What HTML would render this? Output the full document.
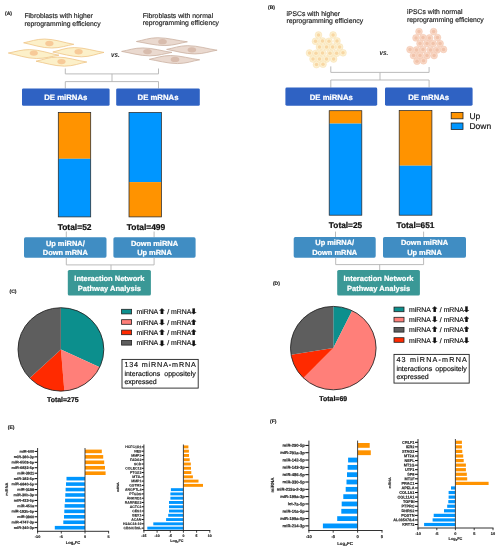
<!DOCTYPE html>
<html><head><meta charset="utf-8"><title>Figure</title>
<style>html,body{margin:0;padding:0;background:#fff;width:499px;height:550px;overflow:hidden}svg{display:block}</style>
</head><body>
<svg width="499" height="550" viewBox="0 0 499 550" text-rendering="geometricPrecision" font-family="'Liberation Sans', Arial, sans-serif">
<rect width="499" height="550" fill="#fff"/>
<text x="5.00" y="15.30" font-size="5.0" font-weight="bold" text-anchor="start" fill="#222" stroke="#222" stroke-width="0.15" >(A)</text>
<text x="24.40" y="18.40" font-size="6.85" font-weight="normal" text-anchor="start" fill="#222" stroke="#222" stroke-width="0.16" >Fibroblasts with higher</text>
<text x="24.40" y="25.70" font-size="6.8" font-weight="normal" text-anchor="start" fill="#222" stroke="#222" stroke-width="0.16" >reprogramming efficiency</text>
<text x="142.80" y="17.80" font-size="6.85" font-weight="normal" text-anchor="start" fill="#222" stroke="#222" stroke-width="0.16" >Fibroblasts with normal</text>
<text x="142.80" y="25.00" font-size="6.8" font-weight="normal" text-anchor="start" fill="#222" stroke="#222" stroke-width="0.16" >reprogramming efficiency</text>
<path d="M23.60,42.80 C30.63,41.47 36.15,39.03 44.68,39.03 C54.72,39.03 64.76,42.93 73.80,44.30 C66.77,45.41 60.75,48.04 51.71,48.04 C41.67,48.04 31.63,44.36 23.60,42.80Z" fill="#fcf0c9" stroke="#eec282" stroke-width="0.75" stroke-linejoin="round"/>
<ellipse cx="49.40" cy="43.50" rx="4.1" ry="2.7" fill="#f7ca98"/>
<path d="M8.30,53.00 C15.40,51.80 20.98,49.62 29.59,49.62 C39.73,49.62 49.87,53.73 59.00,55.20 C51.90,56.18 45.82,58.53 36.69,58.53 C26.55,58.53 16.41,54.64 8.30,53.00Z" fill="#fcf0c9" stroke="#eec282" stroke-width="0.75" stroke-linejoin="round"/>
<ellipse cx="33.80" cy="53.10" rx="4.1" ry="2.7" fill="#f7ca98"/>
<path d="M52.80,52.00 C59.97,50.45 65.60,47.57 74.30,47.57 C84.54,47.57 94.78,51.18 104.00,52.40 C96.83,53.72 90.69,56.82 81.47,56.82 C71.23,56.82 60.99,53.44 52.80,52.00Z" fill="#fcf0c9" stroke="#eec282" stroke-width="0.75" stroke-linejoin="round"/>
<ellipse cx="78.60" cy="51.80" rx="4.1" ry="2.7" fill="#f7ca98"/>
<path d="M36.00,61.20 C43.11,59.74 48.70,57.04 57.34,57.04 C67.50,57.04 77.66,60.73 86.80,62.00 C79.69,63.24 73.59,66.15 64.45,66.15 C54.29,66.15 44.13,62.68 36.00,61.20Z" fill="#fcf0c9" stroke="#eec282" stroke-width="0.75" stroke-linejoin="round"/>
<ellipse cx="61.50" cy="61.60" rx="4.1" ry="2.7" fill="#f7ca98"/>
<path d="M136.40,41.50 C143.54,40.18 149.15,37.73 157.82,37.73 C168.02,37.73 178.22,40.77 187.40,41.80 C180.26,42.93 174.14,45.57 164.96,45.57 C154.76,45.57 144.56,42.72 136.40,41.50Z" fill="#ead9cf" stroke="#c8ad9d" stroke-width="0.75" stroke-linejoin="round"/>
<ellipse cx="162.50" cy="41.70" rx="4.3" ry="2.6" fill="#d8bcad"/>
<path d="M121.60,51.40 C128.66,50.17 134.20,47.92 142.77,47.92 C152.85,47.92 162.93,51.24 172.00,52.40 C164.94,53.43 158.90,55.86 149.82,55.86 C139.74,55.86 129.66,52.73 121.60,51.40Z" fill="#ead9cf" stroke="#c8ad9d" stroke-width="0.75" stroke-linejoin="round"/>
<ellipse cx="147.50" cy="51.60" rx="4.3" ry="2.6" fill="#d8bcad"/>
<path d="M166.60,49.40 C173.67,48.08 179.22,45.64 187.81,45.64 C197.91,45.64 208.01,49.03 217.10,50.20 C210.03,51.32 203.97,53.95 194.88,53.95 C184.78,53.95 174.68,50.76 166.60,49.40Z" fill="#ead9cf" stroke="#c8ad9d" stroke-width="0.75" stroke-linejoin="round"/>
<ellipse cx="191.90" cy="49.80" rx="4.3" ry="2.6" fill="#d8bcad"/>
<path d="M149.30,59.30 C156.36,57.97 161.90,55.51 170.47,55.51 C180.55,55.51 190.63,58.71 199.70,59.80 C192.64,60.93 186.60,63.58 177.52,63.58 C167.44,63.58 157.36,60.58 149.30,59.30Z" fill="#ead9cf" stroke="#c8ad9d" stroke-width="0.75" stroke-linejoin="round"/>
<ellipse cx="175.00" cy="59.40" rx="4.3" ry="2.6" fill="#d8bcad"/>
<text x="111.00" y="56.80" font-size="7.2" font-weight="bold" text-anchor="start" fill="#333" stroke="#333" stroke-width="0.05" font-style="italic" textLength="8.6" lengthAdjust="spacingAndGlyphs">vs.</text>
<polyline points="65.30,68.50 65.30,73.90 158.50,73.90 158.50,68.50" fill="none" stroke="#b3b3b3" stroke-width="0.9"/>
<line x1="112.00" y1="73.90" x2="112.00" y2="81.60" stroke="#b3b3b3" stroke-width="0.9"/>
<polyline points="65.30,88.50 65.30,81.60 158.50,81.60 158.50,88.50" fill="none" stroke="#b3b3b3" stroke-width="0.9"/>
<rect x="22.00" y="88.40" width="87.60" height="17.40" fill="#2f62c3" stroke="none" stroke-width="0" rx="1.4"/>
<rect x="116.20" y="88.40" width="83.60" height="17.40" fill="#2f62c3" stroke="none" stroke-width="0" rx="1.4"/>
<text x="65.80" y="100.20" font-size="7.75" font-weight="bold" text-anchor="middle" fill="#fff" stroke="#fff" stroke-width="0.22" >DE miRNAs</text>
<text x="158.00" y="100.20" font-size="7.75" font-weight="bold" text-anchor="middle" fill="#fff" stroke="#fff" stroke-width="0.22" >DE mRNAs</text>
<rect x="58.30" y="112.50" width="32.40" height="46.30" fill="#ff9300" stroke="none" stroke-width="0" rx="0"/>
<rect x="58.30" y="158.80" width="32.40" height="58.10" fill="#0096ff" stroke="none" stroke-width="0" rx="0"/>
<rect x="58.30" y="112.50" width="32.40" height="104.40" fill="none" stroke="#2a2a2a" stroke-width="0.75" rx="0"/>
<rect x="129.00" y="112.50" width="32.40" height="69.60" fill="#0096ff" stroke="none" stroke-width="0" rx="0"/>
<rect x="129.00" y="182.10" width="32.40" height="34.80" fill="#ff9300" stroke="none" stroke-width="0" rx="0"/>
<rect x="129.00" y="112.50" width="32.40" height="104.40" fill="none" stroke="#2a2a2a" stroke-width="0.75" rx="0"/>
<text x="74.60" y="230.00" font-size="8.45" font-weight="bold" text-anchor="middle" fill="#111" stroke="#111" stroke-width="0.22" >Total=52</text>
<text x="146.00" y="230.20" font-size="8.45" font-weight="bold" text-anchor="middle" fill="#111" stroke="#111" stroke-width="0.22" >Total=499</text>
<line x1="66.30" y1="231.50" x2="66.30" y2="237.30" stroke="#b3b3b3" stroke-width="0.9"/>
<line x1="154.10" y1="231.50" x2="154.10" y2="237.30" stroke="#b3b3b3" stroke-width="0.9"/>
<rect x="24.00" y="237.30" width="82.50" height="20.40" fill="#408dc3" stroke="none" stroke-width="0" rx="1.6"/>
<rect x="113.40" y="237.30" width="82.20" height="20.40" fill="#408dc3" stroke="none" stroke-width="0" rx="1.6"/>
<text x="65.30" y="245.60" font-size="7.45" font-weight="bold" text-anchor="middle" fill="#fff" stroke="#fff" stroke-width="0.22" >Up miRNA/</text>
<text x="65.30" y="255.00" font-size="7.45" font-weight="bold" text-anchor="middle" fill="#fff" stroke="#fff" stroke-width="0.22" >Down mRNA</text>
<text x="154.50" y="245.60" font-size="7.45" font-weight="bold" text-anchor="middle" fill="#fff" stroke="#fff" stroke-width="0.22" >Down miRNA</text>
<text x="154.50" y="255.00" font-size="7.45" font-weight="bold" text-anchor="middle" fill="#fff" stroke="#fff" stroke-width="0.22" >Up mRNA</text>
<polyline points="66.30,257.70 66.30,264.90 154.10,264.90 154.10,257.70" fill="none" stroke="#b3b3b3" stroke-width="0.9"/>
<line x1="111.00" y1="264.90" x2="111.00" y2="270.00" stroke="#b3b3b3" stroke-width="0.9"/>
<rect x="67.80" y="269.90" width="83.10" height="25.60" fill="#3a9896" stroke="none" stroke-width="0" rx="1.6"/>
<text x="109.35" y="280.50" font-size="7.5" font-weight="bold" text-anchor="middle" fill="#fff" stroke="#fff" stroke-width="0.22" >Interaction Network</text>
<text x="109.35" y="290.90" font-size="7.5" font-weight="bold" text-anchor="middle" fill="#fff" stroke="#fff" stroke-width="0.22" >Pathway Analysis</text>
<text x="9.60" y="292.50" font-size="5.0" font-weight="bold" text-anchor="start" fill="#222" stroke="#222" stroke-width="0.15" >(C)</text>
<path d="M60.90,349.40 L60.90,307.70 A42.9,41.7 0 0 1 99.72,367.15 Z" fill="#0c8f8d"/>
<path d="M60.90,349.40 L99.72,367.15 A42.9,41.7 0 0 1 64.33,390.97 Z" fill="#ff7f79"/>
<path d="M60.90,349.40 L64.33,390.97 A42.9,41.7 0 0 1 29.80,378.12 Z" fill="#ff2a00"/>
<path d="M60.90,349.40 L29.80,378.12 A42.9,41.7 0 0 1 60.90,307.70 Z" fill="#5e5e5e"/>
<ellipse cx="60.9" cy="349.4" rx="42.9" ry="41.7" fill="none" stroke="#222" stroke-width="0.85"/>
<text x="62.80" y="402.00" font-size="6.95" font-weight="bold" text-anchor="middle" fill="#111" stroke="#111" stroke-width="0.22" >Total=275</text>
<rect x="121.60" y="309.30" width="10.00" height="4.60" fill="#0c8f8d" stroke="#222" stroke-width="0.8" rx="0"/>
<text x="136.40" y="314.10" font-size="6.9" font-weight="normal" text-anchor="start" fill="#111" stroke="#111" stroke-width="0.16" >miRNA</text>
<text transform="translate(162.00,314.10) scale(1.28,1)" font-family="DejaVu Sans" font-weight="bold" font-size="7.4" text-anchor="middle" fill="#111" stroke="#111" stroke-width="0.2">&#x2B06;</text>
<text x="167.20" y="314.10" font-size="6.9" font-weight="normal" text-anchor="start" fill="#111" stroke="#111" stroke-width="0.16" >/ mRNA</text>
<text transform="translate(193.80,314.30) scale(1.28,1)" font-family="DejaVu Sans" font-weight="bold" font-size="7.4" text-anchor="middle" fill="#111" stroke="#111" stroke-width="0.2">&#x2B07;</text>
<rect x="121.60" y="319.70" width="10.00" height="4.60" fill="#ff7f79" stroke="#222" stroke-width="0.8" rx="0"/>
<text x="136.40" y="324.50" font-size="6.9" font-weight="normal" text-anchor="start" fill="#111" stroke="#111" stroke-width="0.16" >miRNA</text>
<text transform="translate(162.00,324.70) scale(1.28,1)" font-family="DejaVu Sans" font-weight="bold" font-size="7.4" text-anchor="middle" fill="#111" stroke="#111" stroke-width="0.2">&#x2B07;</text>
<text x="167.20" y="324.50" font-size="6.9" font-weight="normal" text-anchor="start" fill="#111" stroke="#111" stroke-width="0.16" >/ mRNA</text>
<text transform="translate(193.80,324.50) scale(1.28,1)" font-family="DejaVu Sans" font-weight="bold" font-size="7.4" text-anchor="middle" fill="#111" stroke="#111" stroke-width="0.2">&#x2B06;</text>
<rect x="121.60" y="330.10" width="10.00" height="4.60" fill="#ff2a00" stroke="#222" stroke-width="0.8" rx="0"/>
<text x="136.40" y="334.90" font-size="6.9" font-weight="normal" text-anchor="start" fill="#111" stroke="#111" stroke-width="0.16" >miRNA</text>
<text transform="translate(162.00,334.90) scale(1.28,1)" font-family="DejaVu Sans" font-weight="bold" font-size="7.4" text-anchor="middle" fill="#111" stroke="#111" stroke-width="0.2">&#x2B06;</text>
<text x="167.20" y="334.90" font-size="6.9" font-weight="normal" text-anchor="start" fill="#111" stroke="#111" stroke-width="0.16" >/ mRNA</text>
<text transform="translate(193.80,334.90) scale(1.28,1)" font-family="DejaVu Sans" font-weight="bold" font-size="7.4" text-anchor="middle" fill="#111" stroke="#111" stroke-width="0.2">&#x2B06;</text>
<rect x="121.60" y="340.50" width="10.00" height="4.60" fill="#5e5e5e" stroke="#222" stroke-width="0.8" rx="0"/>
<text x="136.40" y="345.30" font-size="6.9" font-weight="normal" text-anchor="start" fill="#111" stroke="#111" stroke-width="0.16" >miRNA</text>
<text transform="translate(162.00,345.50) scale(1.28,1)" font-family="DejaVu Sans" font-weight="bold" font-size="7.4" text-anchor="middle" fill="#111" stroke="#111" stroke-width="0.2">&#x2B07;</text>
<text x="167.20" y="345.30" font-size="6.9" font-weight="normal" text-anchor="start" fill="#111" stroke="#111" stroke-width="0.16" >/ mRNA</text>
<text transform="translate(193.80,345.50) scale(1.28,1)" font-family="DejaVu Sans" font-weight="bold" font-size="7.4" text-anchor="middle" fill="#111" stroke="#111" stroke-width="0.2">&#x2B07;</text>
<rect x="122.00" y="359.40" width="76.20" height="28.70" fill="#fff" stroke="#222" stroke-width="0.9" rx="0"/>
<text x="124.40" y="367.40" font-size="7.2" fill="#111" stroke="#111" stroke-width="0.16" textLength="71.40" lengthAdjust="spacing">134 miRNA-mRNA</text>
<text x="124.40" y="375.90" font-size="7.0" font-weight="normal" text-anchor="start" fill="#111" stroke="#111" stroke-width="0.16" >interactions</text>
<text x="195.80" y="375.90" font-size="7.0" font-weight="normal" text-anchor="end" fill="#111" stroke="#111" stroke-width="0.16" >oppositely</text>
<text x="124.40" y="383.80" font-size="7.0" font-weight="normal" text-anchor="start" fill="#111" stroke="#111" stroke-width="0.16" >expressed</text>
<text x="268.00" y="8.60" font-size="5.0" font-weight="bold" text-anchor="start" fill="#222" stroke="#222" stroke-width="0.15" >(B)</text>
<text x="286.40" y="15.60" font-size="6.8" font-weight="normal" text-anchor="start" fill="#222" stroke="#222" stroke-width="0.16" >iPSCs with higher</text>
<text x="286.40" y="22.60" font-size="6.85" font-weight="normal" text-anchor="start" fill="#222" stroke="#222" stroke-width="0.16" >reprogramming efficiency</text>
<text x="407.00" y="14.30" font-size="6.8" font-weight="normal" text-anchor="start" fill="#222" stroke="#222" stroke-width="0.16" >iPSCs with normal</text>
<text x="407.00" y="21.80" font-size="6.85" font-weight="normal" text-anchor="start" fill="#222" stroke="#222" stroke-width="0.16" >reprogramming efficiency</text>
<circle cx="318.50" cy="35.00" r="3.4" fill="#fdf0d0" stroke="#f6dba8" stroke-width="0.4"/>
<circle cx="333.10" cy="35.00" r="3.4" fill="#fdf0d0" stroke="#f6dba8" stroke-width="0.4"/>
<circle cx="315.50" cy="41.30" r="3.4" fill="#fdf0d0" stroke="#f6dba8" stroke-width="0.4"/>
<circle cx="322.50" cy="41.00" r="3.4" fill="#fdf0d0" stroke="#f6dba8" stroke-width="0.4"/>
<circle cx="329.00" cy="41.30" r="3.4" fill="#fdf0d0" stroke="#f6dba8" stroke-width="0.4"/>
<circle cx="337.00" cy="41.00" r="3.4" fill="#fdf0d0" stroke="#f6dba8" stroke-width="0.4"/>
<circle cx="319.50" cy="47.00" r="3.4" fill="#fdf0d0" stroke="#f6dba8" stroke-width="0.4"/>
<circle cx="326.50" cy="47.00" r="3.4" fill="#fdf0d0" stroke="#f6dba8" stroke-width="0.4"/>
<circle cx="332.60" cy="47.00" r="3.4" fill="#fdf0d0" stroke="#f6dba8" stroke-width="0.4"/>
<circle cx="339.60" cy="47.00" r="3.4" fill="#fdf0d0" stroke="#f6dba8" stroke-width="0.4"/>
<circle cx="309.50" cy="53.00" r="3.4" fill="#fdf0d0" stroke="#f6dba8" stroke-width="0.4"/>
<circle cx="316.00" cy="53.30" r="3.4" fill="#fdf0d0" stroke="#f6dba8" stroke-width="0.4"/>
<circle cx="322.50" cy="53.00" r="3.4" fill="#fdf0d0" stroke="#f6dba8" stroke-width="0.4"/>
<circle cx="330.00" cy="53.30" r="3.4" fill="#fdf0d0" stroke="#f6dba8" stroke-width="0.4"/>
<circle cx="336.60" cy="53.30" r="3.4" fill="#fdf0d0" stroke="#f6dba8" stroke-width="0.4"/>
<circle cx="343.00" cy="52.80" r="3.4" fill="#fdf0d0" stroke="#f6dba8" stroke-width="0.4"/>
<circle cx="313.00" cy="59.00" r="3.4" fill="#fdf0d0" stroke="#f6dba8" stroke-width="0.4"/>
<circle cx="319.50" cy="59.00" r="3.4" fill="#fdf0d0" stroke="#f6dba8" stroke-width="0.4"/>
<circle cx="326.50" cy="59.00" r="3.4" fill="#fdf0d0" stroke="#f6dba8" stroke-width="0.4"/>
<circle cx="333.60" cy="59.00" r="3.4" fill="#fdf0d0" stroke="#f6dba8" stroke-width="0.4"/>
<circle cx="316.50" cy="64.60" r="3.4" fill="#fdf0d0" stroke="#f6dba8" stroke-width="0.4"/>
<circle cx="323.00" cy="64.20" r="3.4" fill="#fdf0d0" stroke="#f6dba8" stroke-width="0.4"/>
<circle cx="318.50" cy="35.00" r="1.75" fill="#f8d7a4"/>
<circle cx="333.10" cy="35.00" r="1.75" fill="#f8d7a4"/>
<circle cx="315.50" cy="41.30" r="1.75" fill="#f8d7a4"/>
<circle cx="322.50" cy="41.00" r="1.75" fill="#f8d7a4"/>
<circle cx="329.00" cy="41.30" r="1.75" fill="#f8d7a4"/>
<circle cx="337.00" cy="41.00" r="1.75" fill="#f8d7a4"/>
<circle cx="319.50" cy="47.00" r="1.75" fill="#f8d7a4"/>
<circle cx="326.50" cy="47.00" r="1.75" fill="#f8d7a4"/>
<circle cx="332.60" cy="47.00" r="1.75" fill="#f8d7a4"/>
<circle cx="339.60" cy="47.00" r="1.75" fill="#f8d7a4"/>
<circle cx="309.50" cy="53.00" r="1.75" fill="#f8d7a4"/>
<circle cx="316.00" cy="53.30" r="1.75" fill="#f8d7a4"/>
<circle cx="322.50" cy="53.00" r="1.75" fill="#f8d7a4"/>
<circle cx="330.00" cy="53.30" r="1.75" fill="#f8d7a4"/>
<circle cx="336.60" cy="53.30" r="1.75" fill="#f8d7a4"/>
<circle cx="343.00" cy="52.80" r="1.75" fill="#f8d7a4"/>
<circle cx="313.00" cy="59.00" r="1.75" fill="#f8d7a4"/>
<circle cx="319.50" cy="59.00" r="1.75" fill="#f8d7a4"/>
<circle cx="326.50" cy="59.00" r="1.75" fill="#f8d7a4"/>
<circle cx="333.60" cy="59.00" r="1.75" fill="#f8d7a4"/>
<circle cx="316.50" cy="64.60" r="1.75" fill="#f8d7a4"/>
<circle cx="323.00" cy="64.20" r="1.75" fill="#f8d7a4"/>
<circle cx="419.00" cy="31.60" r="3.4" fill="#f9d8c6" stroke="#efc0a7" stroke-width="0.4"/>
<circle cx="433.60" cy="31.60" r="3.4" fill="#f9d8c6" stroke="#efc0a7" stroke-width="0.4"/>
<circle cx="416.00" cy="37.90" r="3.4" fill="#f9d8c6" stroke="#efc0a7" stroke-width="0.4"/>
<circle cx="423.00" cy="37.60" r="3.4" fill="#f9d8c6" stroke="#efc0a7" stroke-width="0.4"/>
<circle cx="429.50" cy="37.90" r="3.4" fill="#f9d8c6" stroke="#efc0a7" stroke-width="0.4"/>
<circle cx="437.50" cy="37.60" r="3.4" fill="#f9d8c6" stroke="#efc0a7" stroke-width="0.4"/>
<circle cx="420.00" cy="43.60" r="3.4" fill="#f9d8c6" stroke="#efc0a7" stroke-width="0.4"/>
<circle cx="427.00" cy="43.60" r="3.4" fill="#f9d8c6" stroke="#efc0a7" stroke-width="0.4"/>
<circle cx="433.10" cy="43.60" r="3.4" fill="#f9d8c6" stroke="#efc0a7" stroke-width="0.4"/>
<circle cx="440.10" cy="43.60" r="3.4" fill="#f9d8c6" stroke="#efc0a7" stroke-width="0.4"/>
<circle cx="410.00" cy="49.60" r="3.4" fill="#f9d8c6" stroke="#efc0a7" stroke-width="0.4"/>
<circle cx="416.50" cy="49.90" r="3.4" fill="#f9d8c6" stroke="#efc0a7" stroke-width="0.4"/>
<circle cx="423.00" cy="49.60" r="3.4" fill="#f9d8c6" stroke="#efc0a7" stroke-width="0.4"/>
<circle cx="430.50" cy="49.90" r="3.4" fill="#f9d8c6" stroke="#efc0a7" stroke-width="0.4"/>
<circle cx="437.10" cy="49.90" r="3.4" fill="#f9d8c6" stroke="#efc0a7" stroke-width="0.4"/>
<circle cx="443.50" cy="49.40" r="3.4" fill="#f9d8c6" stroke="#efc0a7" stroke-width="0.4"/>
<circle cx="413.50" cy="55.60" r="3.4" fill="#f9d8c6" stroke="#efc0a7" stroke-width="0.4"/>
<circle cx="420.00" cy="55.60" r="3.4" fill="#f9d8c6" stroke="#efc0a7" stroke-width="0.4"/>
<circle cx="427.00" cy="55.60" r="3.4" fill="#f9d8c6" stroke="#efc0a7" stroke-width="0.4"/>
<circle cx="434.10" cy="55.60" r="3.4" fill="#f9d8c6" stroke="#efc0a7" stroke-width="0.4"/>
<circle cx="417.00" cy="61.20" r="3.4" fill="#f9d8c6" stroke="#efc0a7" stroke-width="0.4"/>
<circle cx="423.50" cy="60.80" r="3.4" fill="#f9d8c6" stroke="#efc0a7" stroke-width="0.4"/>
<circle cx="419.00" cy="31.60" r="1.75" fill="#f1c3ab"/>
<circle cx="433.60" cy="31.60" r="1.75" fill="#f1c3ab"/>
<circle cx="416.00" cy="37.90" r="1.75" fill="#f1c3ab"/>
<circle cx="423.00" cy="37.60" r="1.75" fill="#f1c3ab"/>
<circle cx="429.50" cy="37.90" r="1.75" fill="#f1c3ab"/>
<circle cx="437.50" cy="37.60" r="1.75" fill="#f1c3ab"/>
<circle cx="420.00" cy="43.60" r="1.75" fill="#f1c3ab"/>
<circle cx="427.00" cy="43.60" r="1.75" fill="#f1c3ab"/>
<circle cx="433.10" cy="43.60" r="1.75" fill="#f1c3ab"/>
<circle cx="440.10" cy="43.60" r="1.75" fill="#f1c3ab"/>
<circle cx="410.00" cy="49.60" r="1.75" fill="#f1c3ab"/>
<circle cx="416.50" cy="49.90" r="1.75" fill="#f1c3ab"/>
<circle cx="423.00" cy="49.60" r="1.75" fill="#f1c3ab"/>
<circle cx="430.50" cy="49.90" r="1.75" fill="#f1c3ab"/>
<circle cx="437.10" cy="49.90" r="1.75" fill="#f1c3ab"/>
<circle cx="443.50" cy="49.40" r="1.75" fill="#f1c3ab"/>
<circle cx="413.50" cy="55.60" r="1.75" fill="#f1c3ab"/>
<circle cx="420.00" cy="55.60" r="1.75" fill="#f1c3ab"/>
<circle cx="427.00" cy="55.60" r="1.75" fill="#f1c3ab"/>
<circle cx="434.10" cy="55.60" r="1.75" fill="#f1c3ab"/>
<circle cx="417.00" cy="61.20" r="1.75" fill="#f1c3ab"/>
<circle cx="423.50" cy="60.80" r="1.75" fill="#f1c3ab"/>
<text x="379.40" y="54.60" font-size="7.2" font-weight="bold" text-anchor="start" fill="#333" stroke="#333" stroke-width="0.05" font-style="italic" textLength="8.8" lengthAdjust="spacingAndGlyphs">vs.</text>
<polyline points="330.80,66.40 330.80,72.40 429.10,72.40 429.10,67.00" fill="none" stroke="#b3b3b3" stroke-width="0.9"/>
<line x1="380.00" y1="72.40" x2="380.00" y2="80.00" stroke="#b3b3b3" stroke-width="0.9"/>
<polyline points="330.80,87.70 330.80,80.00 429.10,80.00 429.10,87.40" fill="none" stroke="#b3b3b3" stroke-width="0.9"/>
<rect x="285.40" y="87.60" width="91.80" height="18.10" fill="#2f62c3" stroke="none" stroke-width="0" rx="1.4"/>
<rect x="385.00" y="87.60" width="87.60" height="18.10" fill="#2f62c3" stroke="none" stroke-width="0" rx="1.4"/>
<text x="331.30" y="99.60" font-size="7.75" font-weight="bold" text-anchor="middle" fill="#fff" stroke="#fff" stroke-width="0.22" >DE miRNAs</text>
<text x="428.70" y="99.60" font-size="7.75" font-weight="bold" text-anchor="middle" fill="#fff" stroke="#fff" stroke-width="0.22" >DE mRNAs</text>
<rect x="451.20" y="112.40" width="11.80" height="6.40" fill="#ff9300" stroke="#222" stroke-width="0.8" rx="0"/>
<rect x="451.20" y="123.00" width="11.80" height="6.40" fill="#0096ff" stroke="#222" stroke-width="0.8" rx="0"/>
<text x="469.40" y="118.80" font-size="8.5" font-weight="normal" text-anchor="start" fill="#111" stroke="#111" stroke-width="0.16" >Up</text>
<text x="469.40" y="129.40" font-size="8.5" font-weight="normal" text-anchor="start" fill="#111" stroke="#111" stroke-width="0.16" >Down</text>
<rect x="329.20" y="110.70" width="32.60" height="12.90" fill="#ff9300" stroke="none" stroke-width="0" rx="0"/>
<rect x="329.20" y="123.60" width="32.60" height="91.60" fill="#0096ff" stroke="none" stroke-width="0" rx="0"/>
<rect x="329.20" y="110.70" width="32.60" height="104.50" fill="none" stroke="#2a2a2a" stroke-width="0.75" rx="0"/>
<rect x="399.20" y="110.60" width="32.70" height="55.10" fill="#ff9300" stroke="none" stroke-width="0" rx="0"/>
<rect x="399.20" y="165.70" width="32.70" height="49.50" fill="#0096ff" stroke="none" stroke-width="0" rx="0"/>
<rect x="399.20" y="110.60" width="32.70" height="104.60" fill="none" stroke="#2a2a2a" stroke-width="0.75" rx="0"/>
<text x="345.50" y="228.40" font-size="8.3" font-weight="bold" text-anchor="middle" fill="#111" stroke="#111" stroke-width="0.22" >Total=25</text>
<text x="415.50" y="228.40" font-size="8.3" font-weight="bold" text-anchor="middle" fill="#111" stroke="#111" stroke-width="0.22" >Total=651</text>
<line x1="335.50" y1="231.60" x2="335.50" y2="237.00" stroke="#b3b3b3" stroke-width="0.9"/>
<line x1="423.60" y1="231.60" x2="423.60" y2="237.00" stroke="#b3b3b3" stroke-width="0.9"/>
<rect x="293.70" y="237.10" width="82.00" height="20.60" fill="#408dc3" stroke="none" stroke-width="0" rx="1.6"/>
<rect x="383.00" y="237.10" width="83.00" height="20.60" fill="#408dc3" stroke="none" stroke-width="0" rx="1.6"/>
<text x="334.70" y="245.20" font-size="7.45" font-weight="bold" text-anchor="middle" fill="#fff" stroke="#fff" stroke-width="0.22" >Up miRNA/</text>
<text x="334.70" y="254.60" font-size="7.45" font-weight="bold" text-anchor="middle" fill="#fff" stroke="#fff" stroke-width="0.22" >Down mRNA</text>
<text x="424.50" y="245.20" font-size="7.45" font-weight="bold" text-anchor="middle" fill="#fff" stroke="#fff" stroke-width="0.22" >Down miRNA</text>
<text x="424.50" y="254.60" font-size="7.45" font-weight="bold" text-anchor="middle" fill="#fff" stroke="#fff" stroke-width="0.22" >Up mRNA</text>
<polyline points="335.70,257.70 335.70,264.60 423.60,264.60 423.60,257.70" fill="none" stroke="#b3b3b3" stroke-width="0.9"/>
<line x1="379.70" y1="264.60" x2="379.70" y2="270.00" stroke="#b3b3b3" stroke-width="0.9"/>
<rect x="337.20" y="269.90" width="82.70" height="25.70" fill="#3a9896" stroke="none" stroke-width="0" rx="1.6"/>
<text x="378.55" y="280.50" font-size="7.5" font-weight="bold" text-anchor="middle" fill="#fff" stroke="#fff" stroke-width="0.22" >Interaction Network</text>
<text x="378.55" y="290.50" font-size="7.5" font-weight="bold" text-anchor="middle" fill="#fff" stroke="#fff" stroke-width="0.22" >Pathway Analysis</text>
<text x="272.90" y="285.40" font-size="5.0" font-weight="bold" text-anchor="start" fill="#222" stroke="#222" stroke-width="0.15" >(D)</text>
<path d="M333.30,348.10 L333.30,306.40 A42.8,41.7 0 0 1 352.12,310.65 Z" fill="#0c8f8d"/>
<path d="M333.30,348.10 L352.12,310.65 A42.8,41.7 0 1 1 303.38,377.92 Z" fill="#ff7f79"/>
<path d="M333.30,348.10 L303.38,377.92 A42.8,41.7 0 0 1 291.04,354.72 Z" fill="#ff2a00"/>
<path d="M333.30,348.10 L291.04,354.72 A42.8,41.7 0 0 1 333.30,306.40 Z" fill="#5e5e5e"/>
<ellipse cx="333.3" cy="348.1" rx="42.8" ry="41.7" fill="none" stroke="#222" stroke-width="0.85"/>
<text x="333.20" y="401.20" font-size="6.95" font-weight="bold" text-anchor="middle" fill="#111" stroke="#111" stroke-width="0.22" >Total=69</text>
<rect x="394.00" y="307.10" width="10.00" height="4.60" fill="#0c8f8d" stroke="#222" stroke-width="0.8" rx="0"/>
<text x="409.00" y="311.90" font-size="6.9" font-weight="normal" text-anchor="start" fill="#111" stroke="#111" stroke-width="0.16" >miRNA</text>
<text transform="translate(434.60,311.90) scale(1.28,1)" font-family="DejaVu Sans" font-weight="bold" font-size="7.4" text-anchor="middle" fill="#111" stroke="#111" stroke-width="0.2">&#x2B06;</text>
<text x="439.80" y="311.90" font-size="6.9" font-weight="normal" text-anchor="start" fill="#111" stroke="#111" stroke-width="0.16" >/ mRNA</text>
<text transform="translate(466.40,312.10) scale(1.28,1)" font-family="DejaVu Sans" font-weight="bold" font-size="7.4" text-anchor="middle" fill="#111" stroke="#111" stroke-width="0.2">&#x2B07;</text>
<rect x="394.00" y="317.30" width="10.00" height="4.60" fill="#ff7f79" stroke="#222" stroke-width="0.8" rx="0"/>
<text x="409.00" y="322.10" font-size="6.9" font-weight="normal" text-anchor="start" fill="#111" stroke="#111" stroke-width="0.16" >miRNA</text>
<text transform="translate(434.60,322.30) scale(1.28,1)" font-family="DejaVu Sans" font-weight="bold" font-size="7.4" text-anchor="middle" fill="#111" stroke="#111" stroke-width="0.2">&#x2B07;</text>
<text x="439.80" y="322.10" font-size="6.9" font-weight="normal" text-anchor="start" fill="#111" stroke="#111" stroke-width="0.16" >/ mRNA</text>
<text transform="translate(466.40,322.10) scale(1.28,1)" font-family="DejaVu Sans" font-weight="bold" font-size="7.4" text-anchor="middle" fill="#111" stroke="#111" stroke-width="0.2">&#x2B06;</text>
<rect x="394.00" y="327.50" width="10.00" height="4.60" fill="#5e5e5e" stroke="#222" stroke-width="0.8" rx="0"/>
<text x="409.00" y="332.30" font-size="6.9" font-weight="normal" text-anchor="start" fill="#111" stroke="#111" stroke-width="0.16" >miRNA</text>
<text transform="translate(434.60,332.30) scale(1.28,1)" font-family="DejaVu Sans" font-weight="bold" font-size="7.4" text-anchor="middle" fill="#111" stroke="#111" stroke-width="0.2">&#x2B06;</text>
<text x="439.80" y="332.30" font-size="6.9" font-weight="normal" text-anchor="start" fill="#111" stroke="#111" stroke-width="0.16" >/ mRNA</text>
<text transform="translate(466.40,332.30) scale(1.28,1)" font-family="DejaVu Sans" font-weight="bold" font-size="7.4" text-anchor="middle" fill="#111" stroke="#111" stroke-width="0.2">&#x2B06;</text>
<rect x="394.00" y="337.70" width="10.00" height="4.60" fill="#ff2a00" stroke="#222" stroke-width="0.8" rx="0"/>
<text x="409.00" y="342.50" font-size="6.9" font-weight="normal" text-anchor="start" fill="#111" stroke="#111" stroke-width="0.16" >miRNA</text>
<text transform="translate(434.60,342.70) scale(1.28,1)" font-family="DejaVu Sans" font-weight="bold" font-size="7.4" text-anchor="middle" fill="#111" stroke="#111" stroke-width="0.2">&#x2B07;</text>
<text x="439.80" y="342.50" font-size="6.9" font-weight="normal" text-anchor="start" fill="#111" stroke="#111" stroke-width="0.16" >/ mRNA</text>
<text transform="translate(466.40,342.70) scale(1.28,1)" font-family="DejaVu Sans" font-weight="bold" font-size="7.4" text-anchor="middle" fill="#111" stroke="#111" stroke-width="0.2">&#x2B07;</text>
<rect x="394.00" y="354.40" width="75.20" height="28.70" fill="#fff" stroke="#222" stroke-width="0.9" rx="0"/>
<text x="396.40" y="362.40" font-size="7.2" fill="#111" stroke="#111" stroke-width="0.16" textLength="70.40" lengthAdjust="spacing">43 miRNA-mRNA</text>
<text x="396.40" y="370.90" font-size="7.0" font-weight="normal" text-anchor="start" fill="#111" stroke="#111" stroke-width="0.16" >interactions</text>
<text x="466.80" y="370.90" font-size="7.0" font-weight="normal" text-anchor="end" fill="#111" stroke="#111" stroke-width="0.16" >oppositely</text>
<text x="396.40" y="378.80" font-size="7.0" font-weight="normal" text-anchor="start" fill="#111" stroke="#111" stroke-width="0.16" >expressed</text>
<text x="7.80" y="429.30" font-size="5.0" font-weight="bold" text-anchor="start" fill="#222" stroke="#222" stroke-width="0.15" >(E)</text>
<rect x="85.00" y="449.60" width="16.80" height="3.60" fill="#ff9300" stroke="none" stroke-width="0" rx="0"/>
<line x1="34.60" y1="451.40" x2="37.60" y2="451.40" stroke="#000" stroke-width="1.0"/>
<text transform="translate(34.20,452.77) rotate(0.3)" font-size="3.8" font-weight="bold" text-anchor="end" fill="#222" stroke="#222" stroke-width="0.16">miR-600</text>
<rect x="85.00" y="455.05" width="18.20" height="3.60" fill="#ff9300" stroke="none" stroke-width="0" rx="0"/>
<line x1="34.60" y1="456.85" x2="37.60" y2="456.85" stroke="#000" stroke-width="1.0"/>
<text transform="translate(34.20,458.22) rotate(0.3)" font-size="3.8" font-weight="bold" text-anchor="end" fill="#222" stroke="#222" stroke-width="0.16">miR-380-3p</text>
<rect x="85.00" y="460.50" width="19.20" height="3.60" fill="#ff9300" stroke="none" stroke-width="0" rx="0"/>
<line x1="34.60" y1="462.30" x2="37.60" y2="462.30" stroke="#000" stroke-width="1.0"/>
<text transform="translate(34.20,463.67) rotate(0.3)" font-size="3.8" font-weight="bold" text-anchor="end" fill="#222" stroke="#222" stroke-width="0.16">miR-6509-5p</text>
<rect x="85.00" y="465.95" width="20.00" height="3.60" fill="#ff9300" stroke="none" stroke-width="0" rx="0"/>
<line x1="34.60" y1="467.75" x2="37.60" y2="467.75" stroke="#000" stroke-width="1.0"/>
<text transform="translate(34.20,469.12) rotate(0.3)" font-size="3.8" font-weight="bold" text-anchor="end" fill="#222" stroke="#222" stroke-width="0.16">miR-6832-5p</text>
<rect x="85.00" y="471.40" width="20.60" height="3.60" fill="#ff9300" stroke="none" stroke-width="0" rx="0"/>
<line x1="34.60" y1="473.20" x2="37.60" y2="473.20" stroke="#000" stroke-width="1.0"/>
<text transform="translate(34.20,474.57) rotate(0.3)" font-size="3.8" font-weight="bold" text-anchor="end" fill="#222" stroke="#222" stroke-width="0.16">miR-3921</text>
<rect x="66.50" y="476.85" width="18.50" height="3.60" fill="#0096ff" stroke="none" stroke-width="0" rx="0"/>
<line x1="34.60" y1="478.65" x2="37.60" y2="478.65" stroke="#000" stroke-width="1.0"/>
<text transform="translate(34.20,480.02) rotate(0.3)" font-size="3.8" font-weight="bold" text-anchor="end" fill="#222" stroke="#222" stroke-width="0.16">miR-182-5p</text>
<rect x="66.00" y="482.30" width="19.00" height="3.60" fill="#0096ff" stroke="none" stroke-width="0" rx="0"/>
<line x1="34.60" y1="484.10" x2="37.60" y2="484.10" stroke="#000" stroke-width="1.0"/>
<text transform="translate(34.20,485.47) rotate(0.3)" font-size="3.8" font-weight="bold" text-anchor="end" fill="#222" stroke="#222" stroke-width="0.16">miR-6840-5p</text>
<rect x="65.60" y="487.75" width="19.40" height="3.60" fill="#0096ff" stroke="none" stroke-width="0" rx="0"/>
<line x1="34.60" y1="489.55" x2="37.60" y2="489.55" stroke="#000" stroke-width="1.0"/>
<text transform="translate(34.20,490.92) rotate(0.3)" font-size="3.8" font-weight="bold" text-anchor="end" fill="#222" stroke="#222" stroke-width="0.16">miR-3198</text>
<rect x="65.30" y="493.20" width="19.70" height="3.60" fill="#0096ff" stroke="none" stroke-width="0" rx="0"/>
<line x1="34.60" y1="495.00" x2="37.60" y2="495.00" stroke="#000" stroke-width="1.0"/>
<text transform="translate(34.20,496.37) rotate(0.3)" font-size="3.8" font-weight="bold" text-anchor="end" fill="#222" stroke="#222" stroke-width="0.16">miR-30b-3p</text>
<rect x="65.10" y="498.65" width="19.90" height="3.60" fill="#0096ff" stroke="none" stroke-width="0" rx="0"/>
<line x1="34.60" y1="500.45" x2="37.60" y2="500.45" stroke="#000" stroke-width="1.0"/>
<text transform="translate(34.20,501.82) rotate(0.3)" font-size="3.8" font-weight="bold" text-anchor="end" fill="#222" stroke="#222" stroke-width="0.16">miR-423-5p</text>
<rect x="64.60" y="504.10" width="20.40" height="3.60" fill="#0096ff" stroke="none" stroke-width="0" rx="0"/>
<line x1="34.60" y1="505.90" x2="37.60" y2="505.90" stroke="#000" stroke-width="1.0"/>
<text transform="translate(34.20,507.27) rotate(0.3)" font-size="3.8" font-weight="bold" text-anchor="end" fill="#222" stroke="#222" stroke-width="0.16">miR-451a</text>
<rect x="64.30" y="509.55" width="20.70" height="3.60" fill="#0096ff" stroke="none" stroke-width="0" rx="0"/>
<line x1="34.60" y1="511.35" x2="37.60" y2="511.35" stroke="#000" stroke-width="1.0"/>
<text transform="translate(34.20,512.72) rotate(0.3)" font-size="3.8" font-weight="bold" text-anchor="end" fill="#222" stroke="#222" stroke-width="0.16">miR-193b-5p</text>
<rect x="64.00" y="515.00" width="21.00" height="3.60" fill="#0096ff" stroke="none" stroke-width="0" rx="0"/>
<line x1="34.60" y1="516.80" x2="37.60" y2="516.80" stroke="#000" stroke-width="1.0"/>
<text transform="translate(34.20,518.17) rotate(0.3)" font-size="3.8" font-weight="bold" text-anchor="end" fill="#222" stroke="#222" stroke-width="0.16">miR-3960</text>
<rect x="63.30" y="520.45" width="21.70" height="3.60" fill="#0096ff" stroke="none" stroke-width="0" rx="0"/>
<line x1="34.60" y1="522.25" x2="37.60" y2="522.25" stroke="#000" stroke-width="1.0"/>
<text transform="translate(34.20,523.62) rotate(0.3)" font-size="3.8" font-weight="bold" text-anchor="end" fill="#222" stroke="#222" stroke-width="0.16">miR-4747-3p</text>
<rect x="54.80" y="525.90" width="30.20" height="3.60" fill="#0096ff" stroke="none" stroke-width="0" rx="0"/>
<line x1="34.60" y1="527.70" x2="37.60" y2="527.70" stroke="#000" stroke-width="1.0"/>
<text transform="translate(34.20,529.07) rotate(0.3)" font-size="3.8" font-weight="bold" text-anchor="end" fill="#222" stroke="#222" stroke-width="0.16">miR-340-3p</text>
<line x1="85.00" y1="448.00" x2="85.00" y2="531.30" stroke="#333" stroke-width="0.9"/>
<line x1="37.60" y1="448.00" x2="37.60" y2="531.80" stroke="#333" stroke-width="1.0"/>
<line x1="37.10" y1="531.30" x2="109.10" y2="531.30" stroke="#333" stroke-width="1.0"/>
<line x1="37.60" y1="531.30" x2="37.60" y2="533.50" stroke="#111" stroke-width="0.8"/>
<text x="37.60" y="538.00" font-size="3.8" font-weight="bold" text-anchor="middle" fill="#222" stroke="#222" stroke-width="0.16" >-10</text>
<line x1="61.30" y1="531.30" x2="61.30" y2="533.50" stroke="#111" stroke-width="0.8"/>
<text x="61.30" y="538.00" font-size="3.8" font-weight="bold" text-anchor="middle" fill="#222" stroke="#222" stroke-width="0.16" >-5</text>
<line x1="85.00" y1="531.30" x2="85.00" y2="533.50" stroke="#111" stroke-width="0.8"/>
<text x="85.00" y="538.00" font-size="3.8" font-weight="bold" text-anchor="middle" fill="#222" stroke="#222" stroke-width="0.16" >0</text>
<line x1="108.60" y1="531.30" x2="108.60" y2="533.50" stroke="#111" stroke-width="0.8"/>
<text x="108.60" y="538.00" font-size="3.8" font-weight="bold" text-anchor="middle" fill="#222" stroke="#222" stroke-width="0.16" >5</text>
<text transform="translate(7.90,489.20) rotate(-90)" font-size="3.90" font-weight="bold" text-anchor="middle" fill="#222" stroke="#222" stroke-width="0.12">miRNA</text>
<text x="73.00" y="544.30" font-size="4.10" font-weight="bold" text-anchor="middle" fill="#222" stroke="#222" stroke-width="0.12">Log<tspan font-size="2.87" dy="1">2</tspan><tspan dy="-1">FC</tspan></text>
<rect x="183.40" y="445.45" width="5.00" height="2.90" fill="#ff9300" stroke="none" stroke-width="0" rx="0"/>
<line x1="141.70" y1="446.90" x2="143.90" y2="446.90" stroke="#000" stroke-width="1.0"/>
<text transform="translate(141.40,448.16) rotate(0.3)" font-size="3.5" font-weight="bold" text-anchor="end" fill="#222" stroke="#222" stroke-width="0.1">HCFC1R1</text>
<rect x="183.40" y="449.72" width="5.50" height="2.90" fill="#ff9300" stroke="none" stroke-width="0" rx="0"/>
<line x1="141.70" y1="451.17" x2="143.90" y2="451.17" stroke="#000" stroke-width="1.0"/>
<text transform="translate(141.40,452.43) rotate(0.3)" font-size="3.5" font-weight="bold" text-anchor="end" fill="#222" stroke="#222" stroke-width="0.1">NES</text>
<rect x="183.40" y="454.00" width="5.60" height="2.90" fill="#ff9300" stroke="none" stroke-width="0" rx="0"/>
<line x1="141.70" y1="455.45" x2="143.90" y2="455.45" stroke="#000" stroke-width="1.0"/>
<text transform="translate(141.40,456.71) rotate(0.3)" font-size="3.5" font-weight="bold" text-anchor="end" fill="#222" stroke="#222" stroke-width="0.1">MMP3</text>
<rect x="183.40" y="458.27" width="6.30" height="2.90" fill="#ff9300" stroke="none" stroke-width="0" rx="0"/>
<line x1="141.70" y1="459.72" x2="143.90" y2="459.72" stroke="#000" stroke-width="1.0"/>
<text transform="translate(141.40,460.98) rotate(0.3)" font-size="3.5" font-weight="bold" text-anchor="end" fill="#222" stroke="#222" stroke-width="0.1">FADS2</text>
<rect x="183.40" y="462.55" width="7.40" height="2.90" fill="#ff9300" stroke="none" stroke-width="0" rx="0"/>
<line x1="141.70" y1="464.00" x2="143.90" y2="464.00" stroke="#000" stroke-width="1.0"/>
<text transform="translate(141.40,465.26) rotate(0.3)" font-size="3.5" font-weight="bold" text-anchor="end" fill="#222" stroke="#222" stroke-width="0.1">SCD</text>
<rect x="183.40" y="466.82" width="7.60" height="2.90" fill="#ff9300" stroke="none" stroke-width="0" rx="0"/>
<line x1="141.70" y1="468.27" x2="143.90" y2="468.27" stroke="#000" stroke-width="1.0"/>
<text transform="translate(141.40,469.53) rotate(0.3)" font-size="3.5" font-weight="bold" text-anchor="end" fill="#222" stroke="#222" stroke-width="0.1">COLEC12</text>
<rect x="183.40" y="471.09" width="7.90" height="2.90" fill="#ff9300" stroke="none" stroke-width="0" rx="0"/>
<line x1="141.70" y1="472.54" x2="143.90" y2="472.54" stroke="#000" stroke-width="1.0"/>
<text transform="translate(141.40,473.80) rotate(0.3)" font-size="3.5" font-weight="bold" text-anchor="end" fill="#222" stroke="#222" stroke-width="0.1">PTGS2</text>
<rect x="183.40" y="475.37" width="9.50" height="2.90" fill="#ff9300" stroke="none" stroke-width="0" rx="0"/>
<line x1="141.70" y1="476.82" x2="143.90" y2="476.82" stroke="#000" stroke-width="1.0"/>
<text transform="translate(141.40,478.08) rotate(0.3)" font-size="3.5" font-weight="bold" text-anchor="end" fill="#222" stroke="#222" stroke-width="0.1">MT1L</text>
<rect x="183.40" y="479.64" width="15.10" height="2.90" fill="#ff9300" stroke="none" stroke-width="0" rx="0"/>
<line x1="141.70" y1="481.09" x2="143.90" y2="481.09" stroke="#000" stroke-width="1.0"/>
<text transform="translate(141.40,482.35) rotate(0.3)" font-size="3.5" font-weight="bold" text-anchor="end" fill="#222" stroke="#222" stroke-width="0.1">MMP1</text>
<rect x="183.40" y="483.92" width="19.60" height="2.90" fill="#ff9300" stroke="none" stroke-width="0" rx="0"/>
<line x1="141.70" y1="485.37" x2="143.90" y2="485.37" stroke="#000" stroke-width="1.0"/>
<text transform="translate(141.40,486.63) rotate(0.3)" font-size="3.5" font-weight="bold" text-anchor="end" fill="#222" stroke="#222" stroke-width="0.1">GSTM1</text>
<rect x="170.90" y="488.19" width="12.50" height="2.90" fill="#0096ff" stroke="none" stroke-width="0" rx="0"/>
<line x1="141.70" y1="489.64" x2="143.90" y2="489.64" stroke="#000" stroke-width="1.0"/>
<text transform="translate(141.40,490.90) rotate(0.3)" font-size="3.5" font-weight="bold" text-anchor="end" fill="#222" stroke="#222" stroke-width="0.1">ANGPTL4</text>
<rect x="170.40" y="492.46" width="13.00" height="2.90" fill="#0096ff" stroke="none" stroke-width="0" rx="0"/>
<line x1="141.70" y1="493.91" x2="143.90" y2="493.91" stroke="#000" stroke-width="1.0"/>
<text transform="translate(141.40,495.17) rotate(0.3)" font-size="3.5" font-weight="bold" text-anchor="end" fill="#222" stroke="#222" stroke-width="0.1">PTGDS</text>
<rect x="170.40" y="496.74" width="13.00" height="2.90" fill="#0096ff" stroke="none" stroke-width="0" rx="0"/>
<line x1="141.70" y1="498.19" x2="143.90" y2="498.19" stroke="#000" stroke-width="1.0"/>
<text transform="translate(141.40,499.45) rotate(0.3)" font-size="3.5" font-weight="bold" text-anchor="end" fill="#222" stroke="#222" stroke-width="0.1">ANKRD1</text>
<rect x="169.00" y="501.01" width="14.40" height="2.90" fill="#0096ff" stroke="none" stroke-width="0" rx="0"/>
<line x1="141.70" y1="502.46" x2="143.90" y2="502.46" stroke="#000" stroke-width="1.0"/>
<text transform="translate(141.40,503.72) rotate(0.3)" font-size="3.5" font-weight="bold" text-anchor="end" fill="#222" stroke="#222" stroke-width="0.1">RARRES2</text>
<rect x="169.00" y="505.29" width="14.40" height="2.90" fill="#0096ff" stroke="none" stroke-width="0" rx="0"/>
<line x1="141.70" y1="506.74" x2="143.90" y2="506.74" stroke="#000" stroke-width="1.0"/>
<text transform="translate(141.40,508.00) rotate(0.3)" font-size="3.5" font-weight="bold" text-anchor="end" fill="#222" stroke="#222" stroke-width="0.1">ACTC1</text>
<rect x="169.00" y="509.56" width="14.40" height="2.90" fill="#0096ff" stroke="none" stroke-width="0" rx="0"/>
<line x1="141.70" y1="511.01" x2="143.90" y2="511.01" stroke="#000" stroke-width="1.0"/>
<text transform="translate(141.40,512.27) rotate(0.3)" font-size="3.5" font-weight="bold" text-anchor="end" fill="#222" stroke="#222" stroke-width="0.1">CES1</text>
<rect x="168.20" y="513.83" width="15.20" height="2.90" fill="#0096ff" stroke="none" stroke-width="0" rx="0"/>
<line x1="141.70" y1="515.28" x2="143.90" y2="515.28" stroke="#000" stroke-width="1.0"/>
<text transform="translate(141.40,516.54) rotate(0.3)" font-size="3.5" font-weight="bold" text-anchor="end" fill="#222" stroke="#222" stroke-width="0.1">BEX1</text>
<rect x="166.10" y="518.11" width="17.30" height="2.90" fill="#0096ff" stroke="none" stroke-width="0" rx="0"/>
<line x1="141.70" y1="519.56" x2="143.90" y2="519.56" stroke="#000" stroke-width="1.0"/>
<text transform="translate(141.40,520.82) rotate(0.3)" font-size="3.5" font-weight="bold" text-anchor="end" fill="#222" stroke="#222" stroke-width="0.1">ACAN</text>
<rect x="153.30" y="522.38" width="30.10" height="2.90" fill="#0096ff" stroke="none" stroke-width="0" rx="0"/>
<line x1="141.70" y1="523.83" x2="143.90" y2="523.83" stroke="#000" stroke-width="1.0"/>
<text transform="translate(141.40,525.09) rotate(0.3)" font-size="3.5" font-weight="bold" text-anchor="end" fill="#222" stroke="#222" stroke-width="0.1">H2AC18-19</text>
<rect x="147.30" y="526.66" width="36.10" height="2.90" fill="#0096ff" stroke="none" stroke-width="0" rx="0"/>
<line x1="141.70" y1="528.11" x2="143.90" y2="528.11" stroke="#000" stroke-width="1.0"/>
<text transform="translate(141.40,529.37) rotate(0.3)" font-size="3.5" font-weight="bold" text-anchor="end" fill="#222" stroke="#222" stroke-width="0.1">CBS/CBSL</text>
<line x1="183.40" y1="444.50" x2="183.40" y2="530.50" stroke="#333" stroke-width="0.9"/>
<line x1="143.90" y1="444.50" x2="143.90" y2="531.00" stroke="#333" stroke-width="1.0"/>
<line x1="143.40" y1="530.50" x2="210.30" y2="530.50" stroke="#333" stroke-width="1.0"/>
<line x1="143.90" y1="530.50" x2="143.90" y2="532.70" stroke="#111" stroke-width="0.8"/>
<text x="143.90" y="536.50" font-size="3.5" font-weight="bold" text-anchor="middle" fill="#222" stroke="#222" stroke-width="0.16" >-15</text>
<line x1="157.10" y1="530.50" x2="157.10" y2="532.70" stroke="#111" stroke-width="0.8"/>
<text x="157.10" y="536.50" font-size="3.5" font-weight="bold" text-anchor="middle" fill="#222" stroke="#222" stroke-width="0.16" >-10</text>
<line x1="170.30" y1="530.50" x2="170.30" y2="532.70" stroke="#111" stroke-width="0.8"/>
<text x="170.30" y="536.50" font-size="3.5" font-weight="bold" text-anchor="middle" fill="#222" stroke="#222" stroke-width="0.16" >-5</text>
<line x1="183.40" y1="530.50" x2="183.40" y2="532.70" stroke="#111" stroke-width="0.8"/>
<text x="183.40" y="536.50" font-size="3.5" font-weight="bold" text-anchor="middle" fill="#222" stroke="#222" stroke-width="0.16" >0</text>
<line x1="196.60" y1="530.50" x2="196.60" y2="532.70" stroke="#111" stroke-width="0.8"/>
<text x="196.60" y="536.50" font-size="3.5" font-weight="bold" text-anchor="middle" fill="#222" stroke="#222" stroke-width="0.16" >5</text>
<line x1="209.80" y1="530.50" x2="209.80" y2="532.70" stroke="#111" stroke-width="0.8"/>
<text x="209.80" y="536.50" font-size="3.5" font-weight="bold" text-anchor="middle" fill="#222" stroke="#222" stroke-width="0.16" >10</text>
<text transform="translate(119.40,487.20) rotate(-90)" font-size="3.20" font-weight="bold" text-anchor="middle" fill="#222" stroke="#222" stroke-width="0.12">mRNA</text>
<text x="176.90" y="542.00" font-size="3.75" font-weight="bold" text-anchor="middle" fill="#222" stroke="#222" stroke-width="0.12">Log<tspan font-size="2.62" dy="1">2</tspan><tspan dy="-1">FC</tspan></text>
<text x="270.00" y="422.90" font-size="5.0" font-weight="bold" text-anchor="start" fill="#222" stroke="#222" stroke-width="0.15" >(F)</text>
<rect x="357.60" y="443.00" width="12.10" height="4.80" fill="#ff9300" stroke="none" stroke-width="0" rx="0"/>
<line x1="305.30" y1="445.40" x2="308.90" y2="445.40" stroke="#000" stroke-width="1.0"/>
<text transform="translate(304.70,446.88) rotate(0.3)" font-size="4.1" font-weight="bold" text-anchor="end" fill="#222" stroke="#222" stroke-width="0.16">miR-290-5p</text>
<rect x="357.60" y="450.32" width="13.20" height="4.80" fill="#ff9300" stroke="none" stroke-width="0" rx="0"/>
<line x1="305.30" y1="452.72" x2="308.90" y2="452.72" stroke="#000" stroke-width="1.0"/>
<text transform="translate(304.70,454.20) rotate(0.3)" font-size="4.1" font-weight="bold" text-anchor="end" fill="#222" stroke="#222" stroke-width="0.16">miR-291a-3p</text>
<rect x="348.10" y="457.64" width="9.50" height="4.80" fill="#0096ff" stroke="none" stroke-width="0" rx="0"/>
<line x1="305.30" y1="460.04" x2="308.90" y2="460.04" stroke="#000" stroke-width="1.0"/>
<text transform="translate(304.70,461.52) rotate(0.3)" font-size="4.1" font-weight="bold" text-anchor="end" fill="#222" stroke="#222" stroke-width="0.16">miR-142-5p</text>
<rect x="347.60" y="464.96" width="10.00" height="4.80" fill="#0096ff" stroke="none" stroke-width="0" rx="0"/>
<line x1="305.30" y1="467.36" x2="308.90" y2="467.36" stroke="#000" stroke-width="1.0"/>
<text transform="translate(304.70,468.84) rotate(0.3)" font-size="4.1" font-weight="bold" text-anchor="end" fill="#222" stroke="#222" stroke-width="0.16">miR-143-3p</text>
<rect x="347.00" y="472.28" width="10.60" height="4.80" fill="#0096ff" stroke="none" stroke-width="0" rx="0"/>
<line x1="305.30" y1="474.68" x2="308.90" y2="474.68" stroke="#000" stroke-width="1.0"/>
<text transform="translate(304.70,476.16) rotate(0.3)" font-size="4.1" font-weight="bold" text-anchor="end" fill="#222" stroke="#222" stroke-width="0.16">miR-486-5p</text>
<rect x="346.50" y="479.60" width="11.10" height="4.80" fill="#0096ff" stroke="none" stroke-width="0" rx="0"/>
<line x1="305.30" y1="482.00" x2="308.90" y2="482.00" stroke="#000" stroke-width="1.0"/>
<text transform="translate(304.70,483.48) rotate(0.3)" font-size="4.1" font-weight="bold" text-anchor="end" fill="#222" stroke="#222" stroke-width="0.16">miR-330-5p</text>
<rect x="345.70" y="486.92" width="11.90" height="4.80" fill="#0096ff" stroke="none" stroke-width="0" rx="0"/>
<line x1="305.30" y1="489.32" x2="308.90" y2="489.32" stroke="#000" stroke-width="1.0"/>
<text transform="translate(304.70,490.80) rotate(0.3)" font-size="4.1" font-weight="bold" text-anchor="end" fill="#222" stroke="#222" stroke-width="0.16">miR-219a-2-3p</text>
<rect x="343.30" y="494.24" width="14.30" height="4.80" fill="#0096ff" stroke="none" stroke-width="0" rx="0"/>
<line x1="305.30" y1="496.64" x2="308.90" y2="496.64" stroke="#000" stroke-width="1.0"/>
<text transform="translate(304.70,498.12) rotate(0.3)" font-size="4.1" font-weight="bold" text-anchor="end" fill="#222" stroke="#222" stroke-width="0.16">miR-199a-3p</text>
<rect x="341.70" y="501.56" width="15.90" height="4.80" fill="#0096ff" stroke="none" stroke-width="0" rx="0"/>
<line x1="305.30" y1="503.96" x2="308.90" y2="503.96" stroke="#000" stroke-width="1.0"/>
<text transform="translate(304.70,505.44) rotate(0.3)" font-size="4.1" font-weight="bold" text-anchor="end" fill="#222" stroke="#222" stroke-width="0.16">let-7a-5p</text>
<rect x="341.30" y="508.88" width="16.30" height="4.80" fill="#0096ff" stroke="none" stroke-width="0" rx="0"/>
<line x1="305.30" y1="511.28" x2="308.90" y2="511.28" stroke="#000" stroke-width="1.0"/>
<text transform="translate(304.70,512.76) rotate(0.3)" font-size="4.1" font-weight="bold" text-anchor="end" fill="#222" stroke="#222" stroke-width="0.16">miR-10a-5p</text>
<rect x="337.20" y="516.20" width="20.40" height="4.80" fill="#0096ff" stroke="none" stroke-width="0" rx="0"/>
<line x1="305.30" y1="518.60" x2="308.90" y2="518.60" stroke="#000" stroke-width="1.0"/>
<text transform="translate(304.70,520.08) rotate(0.3)" font-size="4.1" font-weight="bold" text-anchor="end" fill="#222" stroke="#222" stroke-width="0.16">miR-199a-5p</text>
<rect x="322.90" y="523.52" width="34.70" height="4.80" fill="#0096ff" stroke="none" stroke-width="0" rx="0"/>
<line x1="305.30" y1="525.92" x2="308.90" y2="525.92" stroke="#000" stroke-width="1.0"/>
<text transform="translate(304.70,527.40) rotate(0.3)" font-size="4.1" font-weight="bold" text-anchor="end" fill="#222" stroke="#222" stroke-width="0.16">miR-214-3p</text>
<line x1="357.60" y1="440.60" x2="357.60" y2="530.50" stroke="#333" stroke-width="0.9"/>
<line x1="308.90" y1="440.60" x2="308.90" y2="531.00" stroke="#333" stroke-width="1.0"/>
<line x1="308.40" y1="530.50" x2="382.50" y2="530.50" stroke="#333" stroke-width="1.0"/>
<line x1="308.90" y1="530.50" x2="308.90" y2="532.70" stroke="#111" stroke-width="0.8"/>
<text x="308.90" y="538.00" font-size="4.1" font-weight="bold" text-anchor="middle" fill="#222" stroke="#222" stroke-width="0.16" >-10</text>
<line x1="333.20" y1="530.50" x2="333.20" y2="532.70" stroke="#111" stroke-width="0.8"/>
<text x="333.20" y="538.00" font-size="4.1" font-weight="bold" text-anchor="middle" fill="#222" stroke="#222" stroke-width="0.16" >-5</text>
<line x1="357.60" y1="530.50" x2="357.60" y2="532.70" stroke="#111" stroke-width="0.8"/>
<text x="357.60" y="538.00" font-size="4.1" font-weight="bold" text-anchor="middle" fill="#222" stroke="#222" stroke-width="0.16" >0</text>
<line x1="382.00" y1="530.50" x2="382.00" y2="532.70" stroke="#111" stroke-width="0.8"/>
<text x="382.00" y="538.00" font-size="4.1" font-weight="bold" text-anchor="middle" fill="#222" stroke="#222" stroke-width="0.16" >5</text>
<text transform="translate(274.40,485.00) rotate(-90)" font-size="4.50" font-weight="bold" text-anchor="middle" fill="#222" stroke="#222" stroke-width="0.12">miRNA</text>
<text x="345.00" y="545.20" font-size="4.40" font-weight="bold" text-anchor="middle" fill="#222" stroke="#222" stroke-width="0.12">Log<tspan font-size="3.08" dy="1">2</tspan><tspan dy="-1">FC</tspan></text>
<rect x="455.40" y="440.70" width="6.50" height="3.20" fill="#ff9300" stroke="none" stroke-width="0" rx="0"/>
<line x1="415.00" y1="442.30" x2="418.00" y2="442.30" stroke="#000" stroke-width="1.0"/>
<text transform="translate(414.50,443.69) rotate(0.3)" font-size="3.85" font-weight="bold" text-anchor="end" fill="#222" stroke="#222" stroke-width="0.14">CRLF1</text>
<rect x="455.40" y="445.27" width="6.50" height="3.20" fill="#ff9300" stroke="none" stroke-width="0" rx="0"/>
<line x1="415.00" y1="446.87" x2="418.00" y2="446.87" stroke="#000" stroke-width="1.0"/>
<text transform="translate(414.50,448.25) rotate(0.3)" font-size="3.85" font-weight="bold" text-anchor="end" fill="#222" stroke="#222" stroke-width="0.14">IER2</text>
<rect x="455.40" y="449.83" width="6.90" height="3.20" fill="#ff9300" stroke="none" stroke-width="0" rx="0"/>
<line x1="415.00" y1="451.43" x2="418.00" y2="451.43" stroke="#000" stroke-width="1.0"/>
<text transform="translate(414.50,452.82) rotate(0.3)" font-size="3.85" font-weight="bold" text-anchor="end" fill="#222" stroke="#222" stroke-width="0.14">STAG2</text>
<rect x="455.40" y="454.40" width="7.80" height="3.20" fill="#ff9300" stroke="none" stroke-width="0" rx="0"/>
<line x1="415.00" y1="456.00" x2="418.00" y2="456.00" stroke="#000" stroke-width="1.0"/>
<text transform="translate(414.50,457.39) rotate(0.3)" font-size="3.85" font-weight="bold" text-anchor="end" fill="#222" stroke="#222" stroke-width="0.14">MT2A</text>
<rect x="455.40" y="458.97" width="8.30" height="3.20" fill="#ff9300" stroke="none" stroke-width="0" rx="0"/>
<line x1="415.00" y1="460.57" x2="418.00" y2="460.57" stroke="#000" stroke-width="1.0"/>
<text transform="translate(414.50,461.95) rotate(0.3)" font-size="3.85" font-weight="bold" text-anchor="end" fill="#222" stroke="#222" stroke-width="0.14">NEFL</text>
<rect x="455.40" y="463.53" width="10.50" height="3.20" fill="#ff9300" stroke="none" stroke-width="0" rx="0"/>
<line x1="415.00" y1="465.13" x2="418.00" y2="465.13" stroke="#000" stroke-width="1.0"/>
<text transform="translate(414.50,466.52) rotate(0.3)" font-size="3.85" font-weight="bold" text-anchor="end" fill="#222" stroke="#222" stroke-width="0.14">MT1G</text>
<rect x="455.40" y="468.10" width="10.50" height="3.20" fill="#ff9300" stroke="none" stroke-width="0" rx="0"/>
<line x1="415.00" y1="469.70" x2="418.00" y2="469.70" stroke="#000" stroke-width="1.0"/>
<text transform="translate(414.50,471.09) rotate(0.3)" font-size="3.85" font-weight="bold" text-anchor="end" fill="#222" stroke="#222" stroke-width="0.14">UTF1</text>
<rect x="455.40" y="472.67" width="11.40" height="3.20" fill="#ff9300" stroke="none" stroke-width="0" rx="0"/>
<line x1="415.00" y1="474.27" x2="418.00" y2="474.27" stroke="#000" stroke-width="1.0"/>
<text transform="translate(414.50,475.66) rotate(0.3)" font-size="3.85" font-weight="bold" text-anchor="end" fill="#222" stroke="#222" stroke-width="0.14">SP8</text>
<rect x="455.40" y="477.24" width="11.80" height="3.20" fill="#ff9300" stroke="none" stroke-width="0" rx="0"/>
<line x1="415.00" y1="478.84" x2="418.00" y2="478.84" stroke="#000" stroke-width="1.0"/>
<text transform="translate(414.50,480.22) rotate(0.3)" font-size="3.85" font-weight="bold" text-anchor="end" fill="#222" stroke="#222" stroke-width="0.14">MT1F</text>
<rect x="455.40" y="481.80" width="33.20" height="3.20" fill="#ff9300" stroke="none" stroke-width="0" rx="0"/>
<line x1="415.00" y1="483.40" x2="418.00" y2="483.40" stroke="#000" stroke-width="1.0"/>
<text transform="translate(414.50,484.79) rotate(0.3)" font-size="3.85" font-weight="bold" text-anchor="end" fill="#222" stroke="#222" stroke-width="0.14">PRAC1</text>
<rect x="451.00" y="486.37" width="4.40" height="3.20" fill="#0096ff" stroke="none" stroke-width="0" rx="0"/>
<line x1="415.00" y1="487.97" x2="418.00" y2="487.97" stroke="#000" stroke-width="1.0"/>
<text transform="translate(414.50,489.36) rotate(0.3)" font-size="3.85" font-weight="bold" text-anchor="end" fill="#222" stroke="#222" stroke-width="0.14">APELA</text>
<rect x="448.60" y="490.94" width="6.80" height="3.20" fill="#0096ff" stroke="none" stroke-width="0" rx="0"/>
<line x1="415.00" y1="492.54" x2="418.00" y2="492.54" stroke="#000" stroke-width="1.0"/>
<text transform="translate(414.50,493.92) rotate(0.3)" font-size="3.85" font-weight="bold" text-anchor="end" fill="#222" stroke="#222" stroke-width="0.14">COL1A1</text>
<rect x="448.60" y="495.50" width="6.80" height="3.20" fill="#0096ff" stroke="none" stroke-width="0" rx="0"/>
<line x1="415.00" y1="497.10" x2="418.00" y2="497.10" stroke="#000" stroke-width="1.0"/>
<text transform="translate(414.50,498.49) rotate(0.3)" font-size="3.85" font-weight="bold" text-anchor="end" fill="#222" stroke="#222" stroke-width="0.14">COL11A1</text>
<rect x="448.30" y="500.07" width="7.10" height="3.20" fill="#0096ff" stroke="none" stroke-width="0" rx="0"/>
<line x1="415.00" y1="501.67" x2="418.00" y2="501.67" stroke="#000" stroke-width="1.0"/>
<text transform="translate(414.50,503.06) rotate(0.3)" font-size="3.85" font-weight="bold" text-anchor="end" fill="#222" stroke="#222" stroke-width="0.14">TGFBI</text>
<rect x="447.20" y="504.64" width="8.20" height="3.20" fill="#0096ff" stroke="none" stroke-width="0" rx="0"/>
<line x1="415.00" y1="506.24" x2="418.00" y2="506.24" stroke="#000" stroke-width="1.0"/>
<text transform="translate(414.50,507.62) rotate(0.3)" font-size="3.85" font-weight="bold" text-anchor="end" fill="#222" stroke="#222" stroke-width="0.14">PTPRC</text>
<rect x="444.00" y="509.20" width="11.40" height="3.20" fill="#0096ff" stroke="none" stroke-width="0" rx="0"/>
<line x1="415.00" y1="510.81" x2="418.00" y2="510.81" stroke="#000" stroke-width="1.0"/>
<text transform="translate(414.50,512.19) rotate(0.3)" font-size="3.85" font-weight="bold" text-anchor="end" fill="#222" stroke="#222" stroke-width="0.14">DHRS2</text>
<rect x="433.70" y="513.77" width="21.70" height="3.20" fill="#0096ff" stroke="none" stroke-width="0" rx="0"/>
<line x1="415.00" y1="515.37" x2="418.00" y2="515.37" stroke="#000" stroke-width="1.0"/>
<text transform="translate(414.50,516.76) rotate(0.3)" font-size="3.85" font-weight="bold" text-anchor="end" fill="#222" stroke="#222" stroke-width="0.14">POSTN</text>
<rect x="432.60" y="518.34" width="22.80" height="3.20" fill="#0096ff" stroke="none" stroke-width="0" rx="0"/>
<line x1="415.00" y1="519.94" x2="418.00" y2="519.94" stroke="#000" stroke-width="1.0"/>
<text transform="translate(414.50,521.33) rotate(0.3)" font-size="3.85" font-weight="bold" text-anchor="end" fill="#222" stroke="#222" stroke-width="0.14">AL035078.4</text>
<rect x="424.10" y="522.91" width="31.30" height="3.20" fill="#0096ff" stroke="none" stroke-width="0" rx="0"/>
<line x1="415.00" y1="524.51" x2="418.00" y2="524.51" stroke="#000" stroke-width="1.0"/>
<text transform="translate(414.50,525.89) rotate(0.3)" font-size="3.85" font-weight="bold" text-anchor="end" fill="#222" stroke="#222" stroke-width="0.14">KRT72</text>
<line x1="455.40" y1="439.00" x2="455.40" y2="528.00" stroke="#333" stroke-width="0.9"/>
<line x1="418.00" y1="439.00" x2="418.00" y2="528.50" stroke="#333" stroke-width="1.0"/>
<line x1="417.50" y1="528.00" x2="493.50" y2="528.00" stroke="#333" stroke-width="1.0"/>
<line x1="418.00" y1="528.00" x2="418.00" y2="530.20" stroke="#111" stroke-width="0.8"/>
<text x="418.00" y="534.60" font-size="3.85" font-weight="bold" text-anchor="middle" fill="#222" stroke="#222" stroke-width="0.16" >-10</text>
<line x1="436.80" y1="528.00" x2="436.80" y2="530.20" stroke="#111" stroke-width="0.8"/>
<text x="436.80" y="534.60" font-size="3.85" font-weight="bold" text-anchor="middle" fill="#222" stroke="#222" stroke-width="0.16" >-5</text>
<line x1="455.40" y1="528.00" x2="455.40" y2="530.20" stroke="#111" stroke-width="0.8"/>
<text x="455.40" y="534.60" font-size="3.85" font-weight="bold" text-anchor="middle" fill="#222" stroke="#222" stroke-width="0.16" >0</text>
<line x1="474.20" y1="528.00" x2="474.20" y2="530.20" stroke="#111" stroke-width="0.8"/>
<text x="474.20" y="534.60" font-size="3.85" font-weight="bold" text-anchor="middle" fill="#222" stroke="#222" stroke-width="0.16" >5</text>
<line x1="493.00" y1="528.00" x2="493.00" y2="530.20" stroke="#111" stroke-width="0.8"/>
<text x="493.00" y="534.60" font-size="3.85" font-weight="bold" text-anchor="middle" fill="#222" stroke="#222" stroke-width="0.16" >10</text>
<text transform="translate(391.00,483.00) rotate(-90)" font-size="3.60" font-weight="bold" text-anchor="middle" fill="#222" stroke="#222" stroke-width="0.12">mRNA</text>
<text x="455.50" y="540.00" font-size="3.90" font-weight="bold" text-anchor="middle" fill="#222" stroke="#222" stroke-width="0.12">Log<tspan font-size="2.73" dy="1">2</tspan><tspan dy="-1">FC</tspan></text>
</svg>
</body></html>
